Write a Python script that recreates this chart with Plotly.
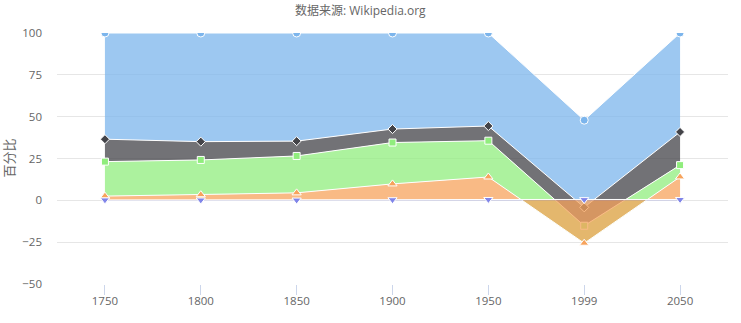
import plotly.graph_objects as go

years = ['1750', '1800', '1850', '1900', '1950', '1999', '2050']
asia = [502, 635, 809, 947, 1402, 3634, 5268]
africa = [106, 107, 111, 133, 221, 767, 1766]
europe = [163, 203, 276, 408, 547, 729, 628]
america = [18, 31, 54, 156, 339, -1818, 1201]
oceania = [2, 2, 2, 6, 13, 30, 46]

names = ['Asia', 'Africa', 'Europe', 'America', 'Oceania']
series = [asia, africa, europe, america, oceania]
colors = ['124,181,236', '67,67,72', '144,237,125', '247,163,92', '128,133,233']
symbols = ['circle', 'diamond', 'square', 'triangle-up', 'triangle-down']
msizes = [8, 7, 7, 8, 8]

n = len(years)
totals = [sum(abs(s[i]) for s in series) for i in range(n)]

# stack from the last series (bottom) upward, Highcharts-style
cum = [0.0] * n
tops, bottoms = {}, {}
for k in range(len(series) - 1, -1, -1):
    pct = [series[k][i] / totals[i] * 100 for i in range(n)]
    bottoms[k] = cum[:]
    cum = [cum[i] + pct[i] for i in range(n)]
    tops[k] = cum[:]

fig = go.Figure()
for k in range(len(series)):
    z = k + 1
    xs = years + years[::-1]
    ys = tops[k] + bottoms[k][::-1]
    fig.add_trace(go.Scatter(
        x=xs, y=ys, fill='toself', mode='none',
        fillcolor='rgba(%s,0.75)' % colors[k],
        hoverinfo='skip', showlegend=False, zorder=z))
    fig.add_trace(go.Scatter(
        x=years, y=tops[k], mode='lines+markers', name=names[k],
        line=dict(color='#ffffff', width=1),
        marker=dict(symbol=symbols[k], size=msizes[k],
                    color='rgb(%s)' % colors[k],
                    line=dict(color='#ffffff', width=1)),
        showlegend=False, zorder=z))

font_family = 'Open Sans, Noto Sans CJK SC, sans-serif'
fig.update_layout(
    width=741, height=323,
    margin=dict(l=57, r=13, t=33, b=39),
    paper_bgcolor='#ffffff', plot_bgcolor='#ffffff',
    font=dict(family=font_family, color='#666666', size=11.5),
    xaxis=dict(type='category', range=[-0.5, 6.5], showgrid=False,
               showline=True, linecolor='#ccd6eb', linewidth=1,
               ticks='outside', ticklen=10, tickcolor='#ccd6eb',
               tickfont=dict(size=11.5, color='#666666'), zeroline=False,
               ticklabelstandoff=-4),
    yaxis=dict(range=[-50, 100], tickvals=[-50, -25, 0, 25, 50, 75, 100],
               showgrid=True, gridcolor='#e6e6e6', gridwidth=1,
               zeroline=False, showline=False, ticks='',
               tickfont=dict(size=11.5, color='#666666'), ticklabelstandoff=14),
    annotations=[
        dict(text='数据来源: Wikipedia.org', x=(360 - 57) / 671, y=1 + (33 - 10) / 251,
             xref='paper', yref='paper',
             xanchor='center', yanchor='middle', showarrow=False,
             font=dict(size=12, color='#666666')),
        dict(text='百分比', x=(8 - 57) / 671, y=0.5, xref='paper', yref='paper',
             xanchor='center', yanchor='middle', textangle=-90, showarrow=False,
             font=dict(size=13, color='#666666')),
    ],
)

fig.write_html('out.html')
